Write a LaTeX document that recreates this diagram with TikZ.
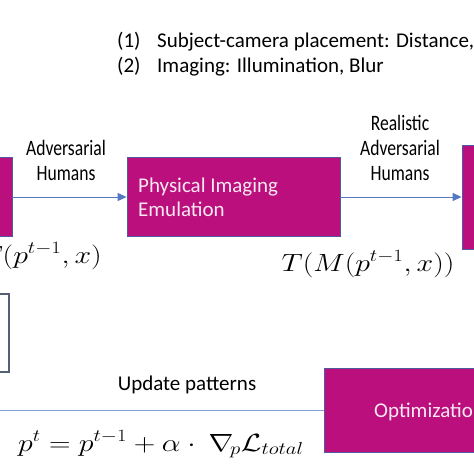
\documentclass[tikz,border=0pt]{standalone}
\usepackage{fontspec}
\setmainfont{Carlito}
\newfontfamily\condfont[FakeStretch=0.8]{Carlito}
\usetikzlibrary{arrows.meta}
\definecolor{mag}{RGB}{186,15,124}
\definecolor{bord}{RGB}{80,90,160}
\definecolor{arr}{RGB}{84,120,196}
\definecolor{upd}{RGB}{130,160,215}
\definecolor{gbord}{RGB}{85,95,120}
\definecolor{boxtext}{RGB}{250,232,242}
\begin{document}
\begin{tikzpicture}[x=1pt,y=-1pt,
  magbox/.style={draw=bord,line width=0.8pt,fill=mag,inner sep=0pt},
  whitebox/.style={draw=gbord,line width=1.2pt,fill=white,inner sep=0pt},
  txt/.style={font=\fontsize{21}{25}\selectfont,inner sep=0pt},
  lbl/.style={font=\condfont\fontsize{22}{25}\selectfont,inner sep=0pt},
  boxtxt/.style={txt,text=boxtext},
  mathlbl/.style={inner sep=0pt,font=\fontsize{24}{28}\selectfont},
  flow/.style={draw=arr,line width=1pt,-{Triangle[length=9pt,width=8pt]}},
  updline/.style={draw=upd,line width=1pt}]
\useasboundingbox (0,0) rectangle (474,474);
\clip (0,0) rectangle (474,474);
\fill[white] (0,0) rectangle (474,474);

% boxes
\node[magbox,minimum width=72pt,minimum height=79pt] (gen) at (-24,197) {};
\node[magbox,minimum width=213pt,minimum height=79pt] (pie) at (233.5,197) {};
\node[magbox,minimum width=78pt,minimum height=104pt] (rbox) at (501,197) {};
\node[magbox,minimum width=236pt,minimum height=84pt] (opt) at (442,410) {};
\node[whitebox,minimum width=89pt,minimum height=78pt] (wbox) at (-35.5,333) {};
\coordinate (updend) at (-20,410);

% connectors
\draw[flow] (gen) -- (pie);
\draw[flow] (pie) -- (rbox);
\draw[updline] (opt.west) -- (updend);

% top list
\node[txt,anchor=base west] (n1) at (117,47) {(1)};
\node[txt,anchor=base west] (t1) at (157,47) {Subject-camera placement: Distance,};
\node[txt,anchor=base west] (n2) at (117,72) {(2)};
\node[txt,anchor=base west] (t2) at (157,72) {Imaging: Illumination, Blur};

% edge labels
\node[lbl,anchor=base] (la1) at (66,155) {Adversarial};
\node[lbl,anchor=base] (la2) at (66,180) {Humans};
\node[lbl,anchor=base] (lb1) at (400,130) {Realistic};
\node[lbl,anchor=base] (lb2) at (400,155) {Adversarial};
\node[lbl,anchor=base] (lb3) at (400,180) {Humans};

% box texts
\node[boxtxt,anchor=base west] (pt1) at (138,192) {Physical Imaging};
\node[boxtxt,anchor=base west] (pt2) at (138,216) {Emulation};
\node[boxtxt,anchor=base west] (ot) at (374,417) {Optimization};

% math
\node[mathlbl,anchor=base east] (m1) at (102,263) {\scalebox{1.2}[1]{$T(p^{t-1},x)$}};
\node[mathlbl,anchor=base] (m2) at (368,271) {\scalebox{1.2}[1]{$T(M(p^{t-1},x))$}};
\node[txt,anchor=base] (up) at (187,390) {Update patterns};
\node[mathlbl,anchor=base west] (m3) at (18,451) {\scalebox{1.2}[1]{$p^t = p^{t-1} + \alpha\cdot\ \nabla_{\!p}\mathcal{L}_{total}$}};
\end{tikzpicture}
\end{document}
